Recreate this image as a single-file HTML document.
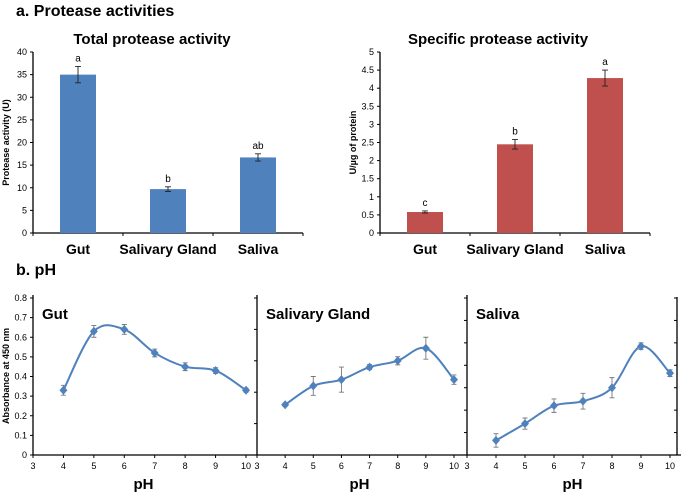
<!DOCTYPE html>
<html><head><meta charset="utf-8"><style>
body{margin:0;background:#fff}
svg{display:block;font-family:"Liberation Sans",Arial,sans-serif}
</style></head><body>
<svg id="c" width="685" height="495" viewBox="0 0 685 495">
<text x="16" y="16" font-size="16" font-weight="bold">a. Protease activities</text>
<text x="16" y="275" font-size="16" font-weight="bold">b. pH</text>
</svg>
<script>
const barCats=["Gut","Salivary Gland","Saliva"];
const totalVals=[35,9.7,16.7];
const totalErr=[1.8,0.5,0.8];
const totalLetters=["a","b","ab"];
const totalTicks=[0,5,10,15,20,25,30,35,40];
const specVals=[0.58,2.45,4.28];
const specErr=[0.03,0.13,0.22];
const specLetters=["c","b","a"];
const specTicks=[0,0.5,1,1.5,2,2.5,3,3.5,4,4.5,5];
const phX=[4,5,6,7,8,9,10];
const gutVals=[0.33,0.63,0.64,0.52,0.45,0.43,0.33];
const gutErr=[0.025,0.03,0.025,0.02,0.02,0.015,0.01];
const sgVals=[0.16,0.22,0.24,0.28,0.30,0.34,0.24];
const sgErr=[0.005,0.03,0.04,0.008,0.013,0.035,0.015];
const salVals=[0.065,0.14,0.22,0.24,0.30,0.485,0.365];
const salErr=[0.03,0.025,0.03,0.035,0.045,0.015,0.015];
const phTicks=[3,4,5,6,7,8,9,10];
const gutYTicks=[0,0.1,0.2,0.3,0.4,0.5,0.6,0.7,0.8];

const svg=document.getElementById('c');
const NS="http://www.w3.org/2000/svg";
function mk(tag,attrs,parent){const e=document.createElementNS(NS,tag);for(const k in attrs)e.setAttribute(k,attrs[k]);(parent||svg).appendChild(e);return e;}
function txt(x,y,s,size,anchor,weight,parent){const t=mk('text',{x:x,y:y,'font-size':size,'text-anchor':anchor||'middle','font-weight':weight||'normal'},parent);t.textContent=s;return t;}

function barChart(o){
  const g=mk('g',{});
  
  
  const ymax=o.ticks[o.ticks.length-1];
  const ys=v=>o.y0-(v/ymax)*(o.y0-o.yTop);
  const step=(o.x1-o.x0)/o.cats.length;
  const t=txt(o.titleX,44,o.title,15,'middle','bold',g);
  
  
  mk('line',{x1:o.x0,y1:o.yTop,x2:o.x0,y2:o.y0,stroke:'#000','stroke-width':1.3},g);
  mk('line',{x1:o.x0,y1:o.y0,x2:o.x1,y2:o.y0,stroke:'#000','stroke-width':1.3},g);
  o.ticks.forEach(v=>{const y=ys(v);mk('line',{x1:o.x0-3,y1:y,x2:o.x0,y2:y,stroke:'#000'},g);
    const l=txt(o.x0-6,y+3,String(v),9,'end','normal',g);
    
    });
  for(let i=0;i<=o.cats.length;i++){const x=o.x0+i*step;mk('line',{x1:x,y1:o.y0,x2:x,y2:o.y0+3,stroke:'#000'},g);}
  const yl=txt(0,0,o.ylabel,9,'middle','bold',g);
  yl.setAttribute('transform','translate('+(o.x0-24)+','+((o.y0+o.yTop)/2)+') rotate(-90)');
  
  
  o.cats.forEach((c,i)=>{
    const cx=o.x0+step*(i+0.5), bw=36, y=ys(o.vals[i]);
    const b=mk('rect',{x:cx-bw/2,y:y,width:bw,height:o.y0-y,fill:o.color},g);
    
    
    const e1=ys(o.vals[i]+o.err[i]),e2=ys(o.vals[i]-o.err[i]);
    mk('path',{d:`M${cx},${e1}V${e2}M${cx-3},${e1}H${cx+3}M${cx-3},${e2}H${cx+3}`,stroke:'#222','stroke-width':0.9,fill:'none'},g);
    const lt=txt(cx,e1-5,o.letters[i],10,'middle','normal',g);
    
    
    const cl=txt(cx,254,c,14,'middle','bold',g);
    
    
  });
}
barChart({name:'total-protease-chart',title:'Total protease activity',titleX:152,cats:barCats,vals:totalVals,err:totalErr,letters:totalLetters,ticks:totalTicks,x0:33,x1:303,y0:233,yTop:52,color:'#4f81bd',ylabel:'Protease activity (U)'});
barChart({name:'specific-protease-chart',title:'Specific protease activity',titleX:498,cats:barCats,vals:specVals,err:specErr,letters:specLetters,ticks:specTicks,x0:380,x1:650,y0:233,yTop:52,color:'#c0504d',ylabel:'U/µg of protein'});

function smooth(pts){let d=`M${pts[0][0]},${pts[0][1]}`;
  for(let i=0;i<pts.length-1;i++){const p0=pts[i-1]||pts[i],p1=pts[i],p2=pts[i+1],p3=pts[i+2]||p2;
    const c1=[p1[0]+(p2[0]-p0[0])/6,p1[1]+(p2[1]-p0[1])/6],c2=[p2[0]-(p3[0]-p1[0])/6,p2[1]-(p3[1]-p1[1])/6];
    d+=`C${c1[0]},${c1[1]} ${c2[0]},${c2[1]} ${p2[0]},${p2[1]}`;}return d;}

function phPanel(o){
  const g=mk('g',{});
  
  
  const y0=455,yTop=298;
  const xs=v=>o.x0+(v-3)*(o.x1-o.x0)/7;
  const ys=v=>y0-(v/o.ymax)*(y0-yTop);
  mk('line',{x1:o.x0,y1:yTop-3,x2:o.x0,y2:y0,stroke:'#000','stroke-width':1.3},g);
  mk('line',{x1:o.x0,y1:y0,x2:o.xEnd,y2:y0,stroke:'#000','stroke-width':1.3},g);
  for(let k=0;k<=o.nTicks;k++){const v=o.ymax*k/o.nTicks,y=ys(v);mk('line',{x1:o.x0-3,y1:y,x2:o.x0,y2:y,stroke:'#000'},g);
    if(o.labels){const l=txt(o.x0-6,y+3,o.labels[k]===0?'0':String(o.labels[k]),9,'end','normal',g);
      
      }}
  phTicks.forEach(v=>{const x=xs(v);mk('line',{x1:x,y1:y0,x2:x,y2:y0+3,stroke:'#000'},g);
    const l=txt(x,y0+14,String(v),9,'middle','normal',g);
    
    });
  const pts=phX.map((v,i)=>[xs(v),ys(o.vals[i])]);
  o.vals.forEach((v,i)=>{const x=xs(phX[i]),a=ys(v+o.err[i]),b=ys(v-o.err[i]);
    mk('path',{d:`M${x},${a}V${b}M${x-2.5},${a}H${x+2.5}M${x-2.5},${b}H${x+2.5}`,stroke:'#777','stroke-width':0.9,fill:'none'},g);});
  const line=mk('path',{d:smooth(pts),stroke:'#4f81bd','stroke-width':2,fill:'none'},g);
  
  
  pts.forEach(p=>{const m=mk('path',{d:`M${p[0]},${p[1]-4.5}L${p[0]+4},${p[1]}L${p[0]},${p[1]+4.5}L${p[0]-4},${p[1]}Z`,fill:'#4f81bd'},g);
    
    });
  const t=txt(o.x0+9,o.titleY||319,o.title,15,'start','bold',g);
  
  
  const xl=txt((o.x0+o.x1)/2+4,489,'pH',15,'middle','bold',g);
  
  
}
phPanel({name:'gut-ph-panel',title:'Gut',x0:33,x1:246,xEnd:257,vals:gutVals,err:gutErr,ymax:0.8,nTicks:8,labels:gutYTicks});
phPanel({name:'salivary-gland-ph-panel',title:'Salivary Gland',x0:257,x1:454,xEnd:467,vals:sgVals,err:sgErr,ymax:0.5,nTicks:5});
phPanel({name:'saliva-ph-panel',title:'Saliva',x0:467,x1:670,xEnd:681,vals:salVals,err:salErr,ymax:0.7,nTicks:7});
// right axis of saliva panel
mk('line',{x1:677,y1:297,x2:677,y2:455,stroke:'#000','stroke-width':1.3});
for(let k=0;k<=7;k++){const y=455-k*(157/7);mk('line',{x1:674,y1:y,x2:677,y2:y,stroke:'#000'});}
const yt=txt(0,0,'Absorbance at 450 nm',9,'middle','bold');
yt.setAttribute('transform','translate(9,376) rotate(-90)');


</script>
</body></html>
